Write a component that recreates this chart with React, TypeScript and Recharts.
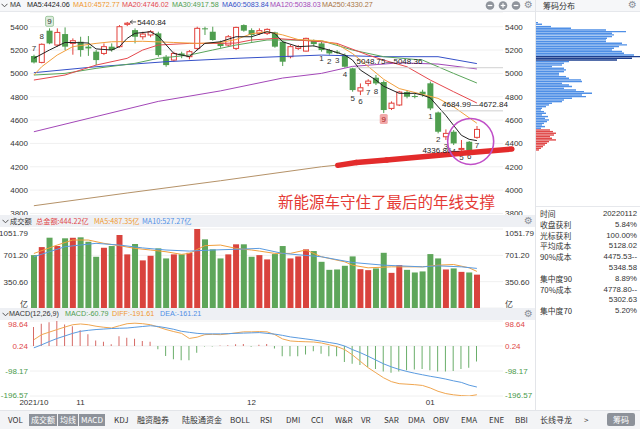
import React from 'react';
import { ComposedChart, BarChart, Bar, Line, XAxis, YAxis, CartesianGrid, Cell, ReferenceLine, ReferenceDot } from 'recharts';

const FONT = "'Liberation Sans', Arial, 'Noto Sans CJK SC', sans-serif";
const CJK = "'Noto Sans CJK SC', 'Liberation Sans', sans-serif";
const C_RED = '#e2403b';
const C_GREEN = '#4f9e4f';

// ---- data ----
const tickIdx = [0, 6, 28, 51];
const tickLabels = ['2021/10', '11', '12', '01'];

const opens = [5149,5094,5366,5243,5337,5257,5271,5229,5186,5171,5229,5229,5420,5371,5314,5329,5343,5143,5114,5171,5143,5214,5386,5357,5263,5243,5214,5414,5371,5343,5343,5351,5271,5143,5214,5191,5280,5257,5200,5186,5157,5043,4849,4914,4963,4926,4700,4729,4840,4806,4843,4915,4665,4457,4500,4350,4414,4452];
const highs = [5160,5257,5386,5386,5394,5300,5314,5320,5200,5257,5257,5414,5440.84,5386,5357,5371,5357,5157,5186,5186,5200,5400,5400,5400,5280,5329,5400,5420,5386,5386,5386,5357,5280,5243,5243,5306,5290,5271,5210,5200,5171,5048.36,4914,4950,4986,4940,4760,4850,4857,4830,4860,4930,4672.84,4520,4514,4429,4420,4549];
const lows = [5085,5086,5250,5229,5200,5160,5143,5150,5071,5157,5186,5220,5405,5257,5290,5310,5143,5057,5100,5130,5120,5200,5329,5280,5220,5229,5200,5357,5271,5329,5329,5220,5063,5129,5200,5186,5229,5186,5160,5165,5048.75,4843,4814,4890,4900,4660,4686,4720,4786,4786,4800,4684.99,4486,4429,4386,4336.86,4340,4440];
const closes = [5094,5249,5257,5351,5229,5280,5200,5214,5114,5229,5200,5400,5430,5314,5337,5357,5157,5071,5171,5157,5186,5386,5380,5286,5234,5314,5394,5366,5329,5366,5377,5229,5100,5229,5229,5300,5251,5200,5171,5180,5057,4857,4877,4934,4914,4686,4745,4840,4800,4800,4820,4700,4500,4486,4400,4357,4343,4520];

const volumes = [704,811,936,825,928,935,941,882,682,802,825,972,714,852,634,695,794,660,714,714,735,1051.79,914,781,660,714,848,848,682,704,647,718,825,660,687,781,758,615,508,513,562,687,517,504,527,735,468,571,508,473,487,718,660,513,527,481,473,444.22];

const ma5Pts = [[0,5129],[2,5200],[4,5265],[6,5263],[7,5260],[8,5210],[10,5200],[11,5229],[12,5300],[13,5343],[15,5357],[16,5320],[18,5171],[20,5143],[22,5257],[24,5271],[26,5314],[28,5314],[30,5357],[31,5343],[32,5271],[34,5229],[36,5236],[38,5200],[40,5157],[41,5114],[42,5029],[44,4943],[45,4890],[47,4829],[49,4829],[50,4814],[51,4790],[53,4640],[55,4470],[56,4435],[57,4424.06]];
const ma10Pts = [[0,4986],[1,5057],[3,5157],[5,5229],[8,5257],[10,5271],[14,5275],[18,5265],[21,5257],[24,5265],[26,5290],[28,5340],[30,5357],[32,5330],[34,5290],[37,5280],[39,5250],[41,5170],[43,5060],[45,4950],[47,4870],[50,4820],[52,4786],[54,4714],[57,4572.77]];
const ma20Pts = [[0,4943],[4,4986],[8,5071],[12,5129],[14,5200],[16,5243],[20,5257],[24,5257],[26,5260],[28,5286],[31,5300],[34,5286],[37,5271],[39,5257],[43,5157],[45,5114],[48,5057],[51,4943],[54,4843],[57,4746.02]];
const ma30Pts = [[0,4986],[4,5000],[8,5043],[13,5086],[16,5129],[20,5157],[23,5200],[26,5243],[30,5286],[33,5286],[37,5280],[41,5200],[45,5143],[50,5114],[54,5000],[57,4917.58]];
const ma60Pts = [[0,5006],[8,5057],[17,5100],[26,5129],[37,5157],[45,5143],[52,5143],[57,5083.84]];
const ma120Pts = [[0,4500],[8,4630],[16,4760],[24,4850],[32,4960],[37,5000],[41,5060],[47,5090],[52,5080],[57,5038.03]];
const ma250Pts = [[0,3866],[12,3975],[24,4080],[37,4200],[47,4270],[57,4330.27]];

const volMa5Pts = [[0,726],[3,838],[5,905],[7,905],[9,861],[11,830],[13,794],[15,772],[17,749],[19,714],[20,727],[22,830],[24,838],[26,794],[28,772],[29,758],[31,727],[33,727],[35,772],[37,682],[40,615],[41,570],[43,535],[46,548],[48,548],[50,548],[52,570],[54,579],[56,535],[57,487.35]];
const volMa10Pts = [[0,682],[2,749],[4,816],[8,861],[11,838],[14,800],[17,772],[20,758],[23,772],[27,785],[29,794],[32,727],[37,682],[41,606],[45,570],[50,548],[52,561],[55,548],[57,527.27]];

const hist = [75,88,94,98.64,85,78,62,46,22,17,7,39,33,29,20,17,-13,-39,-52,-56,-56,-26,-2,-2,2,3,7,8,-3,5,8,-10,-40,-40,-40,-33,-20,-30,-40,-40,-63,-70,-75,-82,-90,-100,-105,-100,-95,-92,-90,-95,-100,-100,-98,-90,-85,-60.79];
const diff = [25,45,55,65,75,84,87,84,78,74,71,80,88,90,88,84,75,65,57,50,30,35,45,46,45,48,52,56,56,57,56,45,28,20,18,17,16,12,5,-2,-14,-35,-60,-85,-105,-125,-140,-148,-150,-152,-155,-165,-178,-187,-192,-195,-196.57,-191.61];
const dea = [-7,5,18,30,40,50,58,62,65,67,69,70,71,74,77,80,77,72,66,58,54,50,48,48,48,49,50,51,52,53,50,47,42,36,32,28,24,19,14,9,0,-14,-26,-40,-55,-70,-82,-92,-100,-107,-113,-119,-124,-130,-137,-143,-154,-161.21];

const tdUp = [[0,'7'],[1,'8'],[2,'9']];
const tdDown = [[37,'1'],[38,'2'],[39,'3'],[40,'4'],[41,'5'],[42,'6'],[43,'7'],[44,'8'],[45,'9'],[51,'1'],[52,'2'],[53,'3'],[54,'4'],[55,'5'],[56,'6'],[57,'7']];

const highMark = { i: 12, price: 5440.84, text: '5440.84' };
const lowMark = { i: 55, price: 4336.86, text: '4336.86' };
const gaps = [
  { i: 41, top: 5048.75, bottom: 5048.36 },
  { i: 52, top: 4684.99, bottom: 4672.84 },
];
const brush = [[39.1, 4212], [41.5, 4236], [45.4, 4258], [53.9, 4309], [61.5, 4352]];
const ring = { i: 56.2, price: 4416 };

const chipPrices = [5434,5420,5400,5386,5371,5357,5343,5329,5314,5300,5286,5271,5257,5243,5229,5214,5200,5186,5171,5157,5143,5129,5114,5100,5086,5071,5057,5043,5029,5014,5000,4986,4971,4957,4943,4929,4914,4900,4886,4871,4857,4843,4829,4814,4800,4786,4771,4757,4743,4729,4714,4700,4686,4671,4657,4643,4629,4614,4600,4586,4571,4557,4543,4529,4514,4500,4486,4471,4457,4443,4429,4414,4400,4386,4371,4357,4343];
const chipLens = [2,6,15,35,70,90,76,78,76,71,70,70,86,91,83,78,76,86,88,98,104,96,81,33,28,26,16,28,30,28,23,23,30,33,45,46,26,33,36,28,40,48,56,46,50,36,28,26,16,13,10,6,5,8,10,6,12,9,13,11,8,6,9,5,14,17,20,18,14,16,20,13,11,9,7,5,3];
const avgCost = 5128.02;
const lastClose = closes[closes.length - 1];

const infoRows = [
  ['时间', '20220112'],
  ['收盘获利', '5.84%'],
  ['光标获利', '100.00%'],
  ['平均成本', '5128.02'],
  ['90%成本', '4475.53--'],
  ['', '5348.58'],
  ['集中度90', '8.89%'],
  ['70%成本', '4778.80--'],
  ['', '5302.63'],
  ['集中度70', '5.20%'],
];

const tabs = [
  ['VOL', 8, false], ['成交额', 31, true], ['均线', 60, true], ['MACD', 81, true], ['KDJ', 114, false],
  ['融资融券', 137, false], ['陆股通资金', 182, false], ['BOLL', 230, false], ['RSI', 260, false], ['DMI', 286, false],
  ['CCI', 311, false], ['W&R', 335, false], ['VR', 361, false], ['SAR', 384, false], ['DMA', 408, false],
  ['OBV', 433, false], ['EMA', 461, false], ['ENE', 489, false], ['BBI', 515, false], ['长线寻龙', 540, false], ['>', 584, false],
];

// ---- rows ----
const rows: any[] = opens.map((open, i) => ({
  i, open, high: highs[i], low: lows[i], close: closes[i], range: [lows[i], highs[i]],
  vol: volumes[i], hist: hist[i], diff: diff[i], dea: dea[i], up: closes[i] >= open,
}));
const put = (key: string, pts: any[]) => pts.forEach(([i, v]) => { rows[i][key] = v; });
put('ma5', ma5Pts); put('ma10', ma10Pts); put('ma20', ma20Pts); put('ma30', ma30Pts);
put('ma60', ma60Pts); put('ma120', ma120Pts); put('ma250', ma250Pts);
put('vma5', volMa5Pts); put('vma10', volMa10Pts);
put('tdU', tdUp); put('tdD', tdDown);

const chipRows = chipPrices.map((price, k) => ({ price, len: chipLens[k] }));

const X_DOMAIN = [-0.5, 60.36];
const P_DOMAIN = [3778, 5526];
const priceTicks = [3800, 4000, 4200, 4400, 4600, 4800, 5000, 5200, 5400];
const volTicks = [0, 350.6, 701.2, 1051.79];
const macdTicks = [-196.57, -98.17, 0.24, 98.64];

function Candle(props: any) {
  const { x, y, width, height, payload } = props;
  if (!payload) return null;
  const { open, close, high, low } = payload;
  const top = Math.min(y, y + height);
  const h = Math.abs(height);
  const k = high > low ? h / (high - low) : 0;
  const py = (v: number) => top + (high - v) * k;
  const up = close >= open;
  const c = up ? C_RED : C_GREEN;
  const cx = x + width / 2;
  const bt = py(Math.max(open, close));
  const bh = Math.max(py(Math.min(open, close)) - bt, 1);
  const els: any[] = [];
  if (up) {
    els.push(<line key="w1" x1={cx} x2={cx} y1={top} y2={bt} stroke={c} strokeWidth={1} />);
    els.push(<line key="w2" x1={cx} x2={cx} y1={bt + bh} y2={top + h} stroke={c} strokeWidth={1} />);
    els.push(<rect key="b" x={x + 0.5} y={bt} width={width - 1} height={bh} fill="#fff" stroke={c} strokeWidth={1} />);
  } else {
    els.push(<line key="w" x1={cx} x2={cx} y1={top} y2={top + h} stroke={c} strokeWidth={1} />);
    els.push(<rect key="b" x={x} y={bt} width={width} height={bh} fill={c} />);
  }
  if (payload.tdU) {
    const ty = top - 4;
    if (payload.tdU === '9') els.push(<rect key="ub" x={cx - 4} y={ty - 8} width={8} height={10} rx={1.5} fill="#dcebdc" stroke="#8fbf8f" strokeWidth={0.8} />);
    els.push(<text key="u" x={cx} y={ty} textAnchor="middle" fontSize={8} fill="#333" fontFamily={FONT}>{payload.tdU}</text>);
  }
  if (payload.tdD) {
    const ty = top + h + 9;
    if (payload.tdD === '9') els.push(<rect key="db" x={cx - 4} y={ty - 8} width={8} height={10} rx={1.5} fill="#f2a9a9" />);
    els.push(<text key="d" x={cx} y={ty} textAnchor="middle" fontSize={8} fill={payload.tdD === '9' ? '#a82020' : '#333'} fontFamily={FONT}>{payload.tdD}</text>);
  }
  return <g>{els}</g>;
}

const AxisText = (p: any) => {
  const { x, y, textAnchor, payload, fmt, color, shift } = p;
  const v = payload.value;
  return (
    <text x={x} y={y} dy={3 + (shift ? shift(v) : 0)} textAnchor={textAnchor} fontSize={8} fill={color ? color(v) : '#333'} fontFamily={FONT}>
      {fmt ? fmt(v) : v}
    </text>
  );
};

const volFmt = (v: number) => (v === 0 ? '亿' : v.toFixed(2));
const volShift = (v: number) => (v === 0 ? -4 : v > 1000 ? 4 : 0);
const macdFmt = (v: number) => v.toFixed(2);
const macdColor = (v: number) => (v > 0 ? '#e04848' : '#4a9a4a');
const macdShift = (v: number) => (v > 90 ? 3 : v < -190 ? -1 : 0);

const Chevron = ({ left, top }: any) => (
  <svg style={{ position: 'absolute', left, top }} width={7} height={5}>
    <polyline points="0.5,0.8 3.5,3.8 6.5,0.8" fill="none" stroke="#555" strokeWidth={1} />
  </svg>
);
const Gear = ({ left, top }: any) => (
  <div style={{ position: 'absolute', left, top, fontSize: 10, lineHeight: '10px', color: '#8a8f98', fontFamily: "'DejaVu Sans', sans-serif" }}>⚙</div>
);
const T = ({ left, top, color = '#333', size = 7.2, children, family = FONT, right }: any) => (
  <div style={{ position: 'absolute', left, right, top, color, fontSize: size, lineHeight: `${Math.round(size + 3)}px`, whiteSpace: 'nowrap', fontFamily: family }}>{children}</div>
);

export default function App() {
  return (
    <div style={{ position: 'absolute', left: 0, top: 0, width: 640, height: 429, background: '#fff', overflow: 'hidden', fontFamily: FONT }}>
      {/* price chart */}
      <div style={{ position: 'absolute', left: 0, top: 0 }}>
        <ComposedChart width={536} height={216} data={rows} margin={{ top: 12, right: 0, bottom: 0, left: 0 }}>
          <CartesianGrid vertical={false} stroke="#f0f0f0" yAxisId="L" />
          <XAxis dataKey="i" type="number" domain={X_DOMAIN} hide allowDataOverflow />
          <YAxis yAxisId="L" orientation="left" width={30} domain={P_DOMAIN} ticks={priceTicks} interval={0} axisLine={false} tickLine={false} tickSize={0} tickMargin={2} allowDataOverflow tick={(p: any) => <AxisText {...p} />} />
          <YAxis yAxisId="R" orientation="right" width={33} domain={P_DOMAIN} ticks={priceTicks} interval={0} axisLine={false} tickLine={false} tickSize={0} tickMargin={2} allowDataOverflow tick={(p: any) => <AxisText {...p} />} />
          <Bar yAxisId="L" dataKey="range" barSize={6} isAnimationActive={false} shape={(p: any) => <Candle {...p} />} />
          <Line yAxisId="L" dataKey="ma250" stroke="#b59268" strokeWidth={1} dot={false} activeDot={false} connectNulls isAnimationActive={false} />
          <Line yAxisId="L" dataKey="ma120" stroke="#a347b8" strokeWidth={1} dot={false} activeDot={false} connectNulls isAnimationActive={false} />
          <Line yAxisId="L" dataKey="ma60" stroke="#3550c8" strokeWidth={1} dot={false} activeDot={false} connectNulls isAnimationActive={false} />
          <Line yAxisId="L" dataKey="ma30" stroke="#5aa55a" strokeWidth={1} dot={false} activeDot={false} connectNulls isAnimationActive={false} />
          <Line yAxisId="L" dataKey="ma20" stroke="#e5484d" strokeWidth={1} dot={false} activeDot={false} connectNulls isAnimationActive={false} />
          <Line yAxisId="L" dataKey="ma10" stroke="#f2a03d" strokeWidth={1} dot={false} activeDot={false} connectNulls isAnimationActive={false} />
          <Line yAxisId="L" dataKey="ma5" stroke="#222" strokeWidth={1} dot={false} activeDot={false} connectNulls isAnimationActive={false} />
          {gaps.map((g, k) => (
            <ReferenceLine key={'gl' + k} yAxisId="L" segment={[{ x: g.i + 0.4, y: (g.top + g.bottom) / 2 }, { x: X_DOMAIN[1], y: (g.top + g.bottom) / 2 }]} stroke="#d0d0d0" strokeWidth={1} />
          ))}
          {gaps.map((g, k) => (
            <ReferenceDot key={'gt' + k} yAxisId="L" x={g.i} y={(g.top + g.bottom) / 2} r={0}
              shape={(p: any) => <text x={p.cx + 4} y={p.cy - 4} fontSize={8} fill="#222" fontFamily={FONT}>{`${g.top.toFixed(2)}—${g.bottom.toFixed(2)}`}</text>} />
          ))}
          <ReferenceDot yAxisId="L" x={highMark.i} y={highMark.price} r={0}
            shape={(p: any) => (
              <g>
                <line x1={p.cx + 3} x2={p.cx + 9} y1={p.cy} y2={p.cy} stroke="#333" strokeWidth={0.8} />
                <polyline points={`${p.cx + 5.5},${p.cy - 1.8} ${p.cx + 3},${p.cy} ${p.cx + 5.5},${p.cy + 1.8}`} fill="none" stroke="#333" strokeWidth={0.8} />
                <text x={p.cx + 10} y={p.cy + 3} fontSize={8} fill="#222" fontFamily={FONT}>{highMark.text}</text>
              </g>
            )} />
          <ReferenceDot yAxisId="L" x={lowMark.i} y={lowMark.price} r={0}
            shape={(p: any) => <text x={p.cx - 2} y={p.cy + 2} textAnchor="end" fontSize={8} fill="#222" fontFamily={FONT}>{lowMark.text + '—'}</text>} />
          {brush.slice(0, -1).map((pt, k) => (
            <ReferenceLine key={'br' + k} yAxisId="L" ifOverflow="visible" segment={[{ x: pt[0], y: pt[1] }, { x: brush[k + 1][0], y: brush[k + 1][1] }]} stroke="#e32b2b" strokeWidth={5.5} strokeLinecap="round" />
          ))}
          <ReferenceDot yAxisId="L" x={ring.i} y={ring.price} r={23} fill="none" stroke="#c04fc8" strokeWidth={1.6} />
        </ComposedChart>
      </div>

      {/* chip distribution */}
      <div style={{ position: 'absolute', left: 536, top: 0 }}>
        <BarChart layout="vertical" width={104} height={216} data={chipRows} margin={{ top: 12, right: 0, bottom: 0, left: 0 }}>
          <XAxis type="number" domain={[0, 104]} hide allowDataOverflow />
          <YAxis type="number" dataKey="price" domain={P_DOMAIN} hide allowDataOverflow reversed />
          <Bar dataKey="len" barSize={1.4} isAnimationActive={false}>
            {chipRows.map((r, k) => (
              <Cell key={k} fill={Math.abs(r.price - avgCost) < 16 ? '#1d3f8f' : r.price < lastClose ? '#e04848' : '#4f8fe6'} />
            ))}
          </Bar>
        </BarChart>
      </div>

      {/* volume chart */}
      <div style={{ position: 'absolute', left: 0, top: 227 }}>
        <ComposedChart width={536} height={81} data={rows} margin={{ top: 2, right: 0, bottom: 0, left: 0 }}>
          <CartesianGrid vertical={false} stroke="#f0f0f0" yAxisId="L" />
          <XAxis dataKey="i" type="number" domain={X_DOMAIN} hide allowDataOverflow />
          <YAxis yAxisId="L" orientation="left" width={30} domain={[0, 1051.79]} ticks={volTicks} interval={0} axisLine={false} tickLine={false} tickSize={0} tickMargin={2} allowDataOverflow tick={(p: any) => <AxisText {...p} fmt={volFmt} shift={volShift} />} />
          <YAxis yAxisId="R" orientation="right" width={33} domain={[0, 1051.79]} ticks={volTicks} interval={0} axisLine={false} tickLine={false} tickSize={0} tickMargin={2} allowDataOverflow tick={(p: any) => <AxisText {...p} fmt={volFmt} shift={volShift} />} />
          <Bar yAxisId="L" dataKey="vol" barSize={6} isAnimationActive={false}>
            {rows.map((r, k) => <Cell key={k} fill={r.up ? '#d9433d' : '#5ea65a'} />)}
          </Bar>
          <Line yAxisId="L" dataKey="vma5" stroke="#f2a03d" strokeWidth={1} dot={false} activeDot={false} connectNulls isAnimationActive={false} />
          <Line yAxisId="L" dataKey="vma10" stroke="#5b9be0" strokeWidth={1} dot={false} activeDot={false} connectNulls isAnimationActive={false} />
        </ComposedChart>
      </div>

      {/* MACD chart */}
      <div style={{ position: 'absolute', left: 0, top: 318 }}>
        <ComposedChart width={536} height={92} data={rows} margin={{ top: 3, right: 0, bottom: 0, left: 0 }}>
          <CartesianGrid vertical={false} stroke="#f0f0f0" yAxisId="L" />
          <XAxis dataKey="i" type="number" domain={X_DOMAIN} allowDataOverflow height={14} ticks={tickIdx} interval={0} axisLine={false} tickLine={false} tickSize={0} tickMargin={3}
            tick={{ fontSize: 8, fill: '#333', fontFamily: FONT }} tickFormatter={(v: number) => tickLabels[tickIdx.indexOf(v)] || ''} />
          <YAxis yAxisId="L" orientation="left" width={30} domain={[-196.57, 98.64]} ticks={macdTicks} interval={0} axisLine={false} tickLine={false} tickSize={0} tickMargin={2} allowDataOverflow tick={(p: any) => <AxisText {...p} fmt={macdFmt} color={macdColor} shift={macdShift} />} />
          <YAxis yAxisId="R" orientation="right" width={33} domain={[-196.57, 98.64]} ticks={macdTicks} interval={0} axisLine={false} tickLine={false} tickSize={0} tickMargin={2} allowDataOverflow tick={(p: any) => <AxisText {...p} fmt={macdFmt} color={macdColor} shift={macdShift} />} />
          <Bar yAxisId="L" dataKey="hist" barSize={1} isAnimationActive={false}>
            {rows.map((r, k) => <Cell key={k} fill={r.hist >= 0 ? '#d66a66' : '#6aae6a'} />)}
          </Bar>
          <Line yAxisId="L" dataKey="diff" stroke="#f0a650" strokeWidth={1} dot={false} activeDot={false} isAnimationActive={false} />
          <Line yAxisId="L" dataKey="dea" stroke="#5b9be0" strokeWidth={1} dot={false} activeDot={false} isAnimationActive={false} />
        </ComposedChart>
      </div>

      {/* main header */}
      <div style={{ position: 'absolute', left: 0, top: 0, width: 535, height: 11, background: '#f6f7f9', borderBottom: '1px solid #e6e8ec' }} />
      <Chevron left={1} top={3} />
      <T left={10} top={0}>MA</T>
      <T left={27} top={0} color="#222">MA5:4424.06</T>
      <T left={73} top={0} color="#f0982e">MA10:4572.77</T>
      <T left={122} top={0} color="#e5484d">MA20:4746.02</T>
      <T left={172} top={0} color="#4f9e4f">MA30:4917.58</T>
      <T left={222} top={0} color="#3550c8">MA60:5083.84</T>
      <T left={270} top={0} color="#a347b8">MA120:5038.03</T>
      <T left={322} top={0} color="#a9743f">MA250:4330.27</T>
      <svg style={{ position: 'absolute', left: 484, top: 0 }} width={40} height={11}>
        {[6, 19, 32].map((cx, k) => (
          <g key={k}>
            <circle cx={cx} cy={5.5} r={4.3} fill="#8f949c" />
            <line x1={cx - 2.3} x2={cx + 2.3} y1={5.5} y2={5.5} stroke="#fff" strokeWidth={1.2} />
            {k === 1 ? <line x1={cx} x2={cx} y1={3.2} y2={7.8} stroke="#fff" strokeWidth={1.2} /> : null}
          </g>
        ))}
      </svg>
      <Gear left={524} top={0} />

      {/* chip header & panel */}
      <div style={{ position: 'absolute', left: 535, top: 0, width: 1, height: 410, background: '#e3e5e9' }} />
      <div style={{ position: 'absolute', left: 536, top: 0, width: 104, height: 11, background: '#f6f7f9', borderBottom: '1px solid #e6e8ec' }} />
      <T left={543} top={0} size={8} family={CJK}>筹码分布</T>
      <Gear left={628} top={0} />
      <div style={{ position: 'absolute', left: 536, top: 206, width: 104, height: 1, background: '#e6e8ec' }} />
      {infoRows.map((r, k) => (
        <React.Fragment key={k}>
          <T left={540} top={208 + k * 10.8} size={7.8} family={CJK}>{r[0]}</T>
          <T right={3} top={208 + k * 10.8} size={7.8}>{r[1]}</T>
        </React.Fragment>
      ))}

      {/* annotation text */}
      <div style={{ position: 'absolute', left: 278, top: 191, fontSize: 15.5, lineHeight: '20px', color: '#e53a35', fontFamily: CJK, whiteSpace: 'nowrap' }}>新能源车守住了最后的年线支撑</div>

      {/* volume header */}
      <div style={{ position: 'absolute', left: 0, top: 215, width: 535, height: 12, background: '#eef0f4' }} />
      <Chevron left={2} top={219} />
      <T left={10} top={216} family={CJK}>成交额</T>
      <T left={36} top={216} color="#e04848" family={CJK}>总金额:444.22亿</T>
      <T left={94} top={216} color="#f0982e" family={CJK}>MA5:487.35亿</T>
      <T left={142} top={216} color="#4f8fe6" family={CJK}>MA10:527.27亿</T>
      <Gear left={524} top={216} />

      {/* MACD header */}
      <div style={{ position: 'absolute', left: 0, top: 308, width: 535, height: 12, background: '#eef0f4' }} />
      <Chevron left={2} top={312} />
      <T left={9} top={309}>MACD(12,26,9)</T>
      <T left={65} top={309} color="#4f9e4f">MACD:-60.79</T>
      <T left={112} top={309} color="#f0982e">DIFF:-191.61</T>
      <T left={160} top={309} color="#4f8fe6">DEA:-161.21</T>
      <Gear left={524} top={309} />

      {/* tab bar */}
      <div style={{ position: 'absolute', left: 0, top: 410, width: 640, height: 19, background: '#f3f4f6', borderTop: '1px solid #e3e5e9' }} />
      {tabs.map(([label, left, sel]: any, k) => (
        <div key={k} style={{ position: 'absolute', left: left - 2, top: 414, height: 12, padding: '0 2px', background: sel ? '#8d929a' : 'transparent', color: sel ? '#fff' : '#333', fontSize: 8, lineHeight: '12px', fontFamily: CJK, whiteSpace: 'nowrap' }}>{label}</div>
      ))}
      <div style={{ position: 'absolute', left: 607, top: 413, width: 28, height: 13, borderRadius: 2, background: '#8d929a', color: '#fff', fontSize: 8, lineHeight: '13px', textAlign: 'center', fontFamily: CJK }}>筹码</div>
    </div>
  );
}
